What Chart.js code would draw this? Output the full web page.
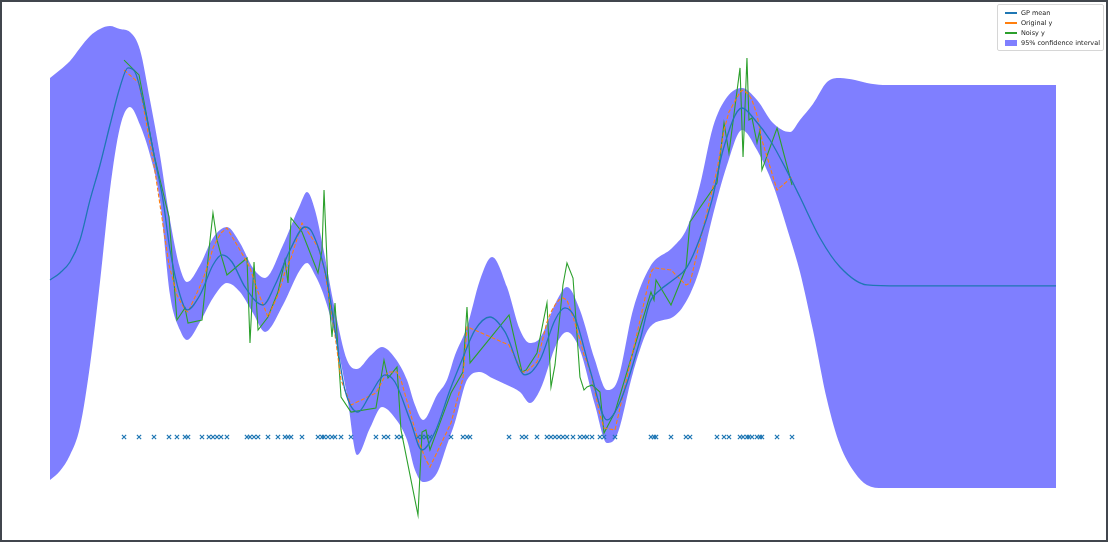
<!DOCTYPE html>
<html>
<head>
<meta charset="utf-8">
<script src="https://cdn.jsdelivr.net/npm/chart.js@4.4.1/dist/chart.umd.min.js"></script>
<style>
  html, body { margin: 0; padding: 0; background: #fff; }
  #frame {
    position: relative;
    width: 1104px;
    height: 538px;
    border: 2px solid #41464d;
    background: #fff;
  }
  #gp { display: block; }
  #legend {
    position: absolute;
    left: 995px;
    top: 2px;
    width: 105px;
    padding: 3px 0 2px 0;
    background: rgba(255,255,255,0.8);
    border: 1px solid #d6d6d6;
    border-radius: 2px;
    font-family: "DejaVu Sans", sans-serif;
    font-size: 6.5px;
    color: #222;
  }
  #legend .row { height: 10px; line-height: 10px; white-space: nowrap; }
  #legend .handle { display: inline-block; width: 12px; margin: 0 4px 0 7px; vertical-align: middle; }
</style>
</head>
<body>
<div id="frame">
  <canvas id="gp" width="1104" height="538"></canvas>
  <div id="legend"></div>
</div>
<script>
// training inputs (sorted) with true and noisy targets
const trainX = [0.736, 0.885, 1.034, 1.183, 1.262, 1.342, 1.372, 1.511, 1.580, 1.620,
  1.660, 1.700, 1.759, 1.958, 1.988, 2.028, 2.068, 2.167, 2.266, 2.336,
  2.366, 2.396, 2.505, 2.664, 2.704, 2.724, 2.763, 2.803, 2.833, 2.893,
  2.992, 3.240, 3.320, 3.360, 3.449, 3.489, 3.658, 3.698, 3.737, 3.777,
  3.986, 4.105, 4.145, 4.175, 4.563, 4.692, 4.732, 4.841, 4.940, 4.980,
  5.020, 5.059, 5.099, 5.139, 5.199, 5.268, 5.308, 5.338, 5.388, 5.467,
  5.507, 5.616, 5.974, 6.004, 6.024, 6.173, 6.322, 6.362, 6.630, 6.700,
  6.749, 6.859, 6.889, 6.928, 6.948, 6.978, 7.028, 7.057, 7.077, 7.227, 7.376];
const originalY = [1.336, 1.218, 0.473, -0.436, -0.709, -0.845, -0.864, -0.591, -0.409, -0.282,
  -0.209, -0.145, -0.100, -0.409, -0.464, -0.573, -0.682, -0.909, -0.709, -0.500,
  -0.436, -0.373, -0.055, -0.273, -0.391, -0.464, -0.664, -0.891, -1.073, -1.482,
  -1.709, -1.600, -1.464, -1.409, -1.409, -1.482, -2.027, -2.118, -2.209, -2.273,
  -1.873, -1.464, -1.000, -1.009, -1.164, -1.409, -1.409, -1.318, -0.955, -0.864,
  -0.800, -0.755, -0.736, -0.755, -0.909, -1.118, -1.255, -1.318, -1.464, -1.800,
  -1.918, -1.936, -0.500, -0.464, -0.464, -0.482, -0.618, -0.600, 0.427, 0.791,
  0.955, 1.136, 1.155, 1.127, 1.109, 1.064, 0.927, 0.791, 0.700, 0.245, 0.364];
const noisyY = [1.427, 1.291, 0.564, 0.000, -0.936, -0.827, -0.964, -0.936, -0.300, 0.036,
  -0.209, -0.345, -0.527, -0.373, -1.145, -0.409, -1.027, -0.909, -0.682, -0.391,
  -0.600, -0.009, -0.136, -0.509, -0.300, 0.245, -0.618, -1.091, -0.782, -1.636,
  -1.773, -1.736, -1.300, -1.464, -1.364, -1.936, -2.709, -1.955, -1.936, -2.118,
  -1.600, -1.409, -0.818, -1.327, -0.891, -1.409, -1.391, -1.236, -0.782, -1.545,
  -1.345, -0.982, -0.618, -0.418, -0.555, -1.455, -1.573, -1.545, -1.527, -1.591,
  -1.964, -1.773, -0.682, -0.755, -0.573, -0.800, -0.464, -0.045, 0.309, 0.855,
  0.582, 1.355, 0.545, 1.445, 0.882, 0.900, 0.673, 0.791, 0.427, 0.809, 0.291];
const markerLevel = -2;

// GP posterior mean on a prediction grid
const meanX = [0.000, 0.099, 0.199, 0.298, 0.398, 0.497, 0.596, 0.696, 0.775, 0.845,
  0.944, 1.044, 1.123, 1.193, 1.292, 1.362, 1.491, 1.620, 1.710, 1.809,
  1.938, 2.117, 2.237, 2.386, 2.535, 2.604, 2.753, 2.833, 2.932, 3.062,
  3.181, 3.330, 3.429, 3.579, 3.698, 3.827, 3.976, 4.095, 4.225, 4.374,
  4.523, 4.722, 4.871, 5.020, 5.119, 5.219, 5.368, 5.537, 5.666, 5.865,
  5.964, 6.064, 6.193, 6.332, 6.461, 6.581, 6.690, 6.879, 7.008, 7.157,
  7.356, 7.455, 7.654, 7.853, 8.121, 8.449, 10.000];
const meanY = [-0.573, -0.509, -0.409, -0.209, 0.155, 0.473, 0.836, 1.182, 1.355, 1.318,
  0.973, 0.518, 0.155, -0.300, -0.709, -0.845, -0.709, -0.436, -0.345, -0.409,
  -0.636, -0.800, -0.618, -0.300, -0.091, -0.136, -0.573, -1.027, -1.573, -1.773,
  -1.618, -1.436, -1.500, -1.845, -2.118, -1.955, -1.573, -1.300, -1.027, -0.909,
  -1.045, -1.436, -1.300, -0.936, -0.827, -0.918, -1.391, -1.845, -1.682, -1.118,
  -0.773, -0.664, -0.573, -0.455, -0.191, 0.155, 0.609, 0.991, 0.882, 0.700,
  0.364, 0.182, -0.191, -0.455, -0.618, -0.627, -0.627];

// 95% interval bounds on the band grid
const bandX = [0.000, 0.099, 0.199, 0.298, 0.398, 0.497, 0.596, 0.696, 0.795, 0.895,
  0.994, 1.093, 1.193, 1.292, 1.362, 1.491, 1.620, 1.759, 1.889, 2.018,
  2.137, 2.316, 2.485, 2.555, 2.634, 2.714, 2.833, 2.952, 3.052, 3.181,
  3.300, 3.429, 3.549, 3.628, 3.708, 3.847, 3.946, 4.026, 4.145, 4.274,
  4.394, 4.543, 4.672, 4.771, 4.871, 5.040, 5.139, 5.268, 5.417, 5.537,
  5.636, 5.795, 5.964, 6.193, 6.332, 6.461, 6.590, 6.730, 6.879, 7.028,
  7.187, 7.356, 7.455, 7.584, 7.724, 7.853, 8.002, 8.121, 8.280, 8.648, 10.000];
const upperY = [1.264, 1.336, 1.418, 1.536, 1.645, 1.709, 1.736, 1.709, 1.682, 1.518,
  1.064, 0.564, -0.027, -0.464, -0.591, -0.436, -0.191, -0.091, -0.236, -0.464,
  -0.555, -0.255, 0.109, 0.227, 0.064, -0.273, -0.845, -1.300, -1.382, -1.264,
  -1.182, -1.282, -1.482, -1.709, -1.845, -1.618, -1.482, -1.255, -1.000, -0.573,
  -0.364, -0.636, -1.027, -1.145, -1.100, -0.755, -0.636, -0.845, -1.300, -1.573,
  -1.500, -0.845, -0.455, -0.273, -0.100, 0.291, 0.818, 1.091, 1.173, 1.064,
  0.855, 0.773, 0.882, 1.027, 1.227, 1.264, 1.245, 1.218, 1.200, 1.200, 1.200];
const lowerY = [-2.391, -2.309, -2.164, -1.909, -1.345, -0.591, 0.245, 0.818, 1.000, 0.836,
  0.564, 0.155, -0.709, -1.027, -1.118, -0.955, -0.736, -0.600, -0.682, -0.873,
  -1.045, -0.800, -0.482, -0.418, -0.527, -0.691, -1.073, -1.618, -2.164, -1.918,
  -1.727, -1.827, -2.027, -2.300, -2.409, -2.327, -2.073, -1.864, -1.482, -1.409,
  -1.464, -1.527, -1.591, -1.691, -1.573, -1.145, -1.045, -1.209, -1.709, -2.055,
  -1.982, -1.418, -1.000, -0.909, -0.755, -0.464, 0.018, 0.473, 0.791, 0.609,
  0.291, -0.191, -0.500, -1.027, -1.664, -2.073, -2.327, -2.436, -2.464, -2.464, -2.464];

function pts(xs, ys) {
  return xs.map(function (x, i) { return { x: x, y: ys[i] }; });
}

const blue = '#1f77b4', orange = '#ff7f0e', green = '#2ca02c', bandColor = 'rgba(0,0,255,0.5)';

new Chart(document.getElementById('gp'), {
  type: 'line',
  data: {
    datasets: [{
        label: 'GP mean',
        data: pts(meanX, meanY),
        borderColor: blue,
        borderWidth: 1.3,
        cubicInterpolationMode: 'monotone',
        pointRadius: 0,
        fill: false
      }, {
        label: 'Original y',
        data: pts(trainX, originalY),
        borderColor: orange,
        borderWidth: 1.1,
        borderDash: [4, 2],
        pointRadius: 0,
        fill: false
      }, {
        label: 'Noisy y',
        data: pts(trainX, noisyY),
        borderColor: green,
        borderWidth: 1.1,
        pointRadius: 0,
        fill: false
      }, {
        label: 'train',
        type: 'scatter',
        data: trainX.map(function (x) { return { x: x, y: markerLevel }; }),
        showLine: false,
        pointStyle: 'crossRot',
        pointRadius: 3,
        borderColor: blue,
        borderWidth: 1.2
      }, {
        label: '95% confidence interval',
        data: pts(bandX, upperY),
        borderWidth: 0,
        borderColor: 'rgba(0,0,0,0)',
        backgroundColor: bandColor,
        cubicInterpolationMode: 'monotone',
        pointRadius: 0,
        fill: '+1'
      }, {
        label: 'lower',
        data: pts(bandX, lowerY),
        borderWidth: 0,
        borderColor: 'rgba(0,0,0,0)',
        cubicInterpolationMode: 'monotone',
        pointRadius: 0,
        fill: false
      }
    ]
  },
  options: {
    responsive: false,
    animation: false,
    layout: { padding: 0, autoPadding: false },
    scales: {
      x: { type: 'linear', min: -0.4771, max: 10.497, display: false },
      y: { type: 'linear', min: -2.9364, max: 1.9545, display: false }
    },
    plugins: {
      legend: { display: false },
      tooltip: { enabled: false }
    }
  }
});

// matplotlib-style legend box
var legendItems = [
  { text: 'GP mean', kind: 'solid', color: blue },
  { text: 'Original y', kind: 'dashed', color: orange },
  { text: 'Noisy y', kind: 'solid', color: green },
  { text: '95% confidence interval', kind: 'patch', color: bandColor }
];
var legendEl = document.getElementById('legend');
legendItems.forEach(function (item) {
  var row = document.createElement('div');
  row.className = 'row';
  var h = document.createElement('span');
  h.className = 'handle';
  if (item.kind === 'patch') {
    h.style.height = '6px';
    h.style.background = item.color;
  } else {
    h.style.height = '0px';
    h.style.borderTopWidth = '2px';
    h.style.borderTopStyle = item.kind;
    h.style.borderTopColor = item.color;
  }
  row.appendChild(h);
  row.appendChild(document.createTextNode(item.text));
  legendEl.appendChild(row);
});
</script>
</body>
</html>
